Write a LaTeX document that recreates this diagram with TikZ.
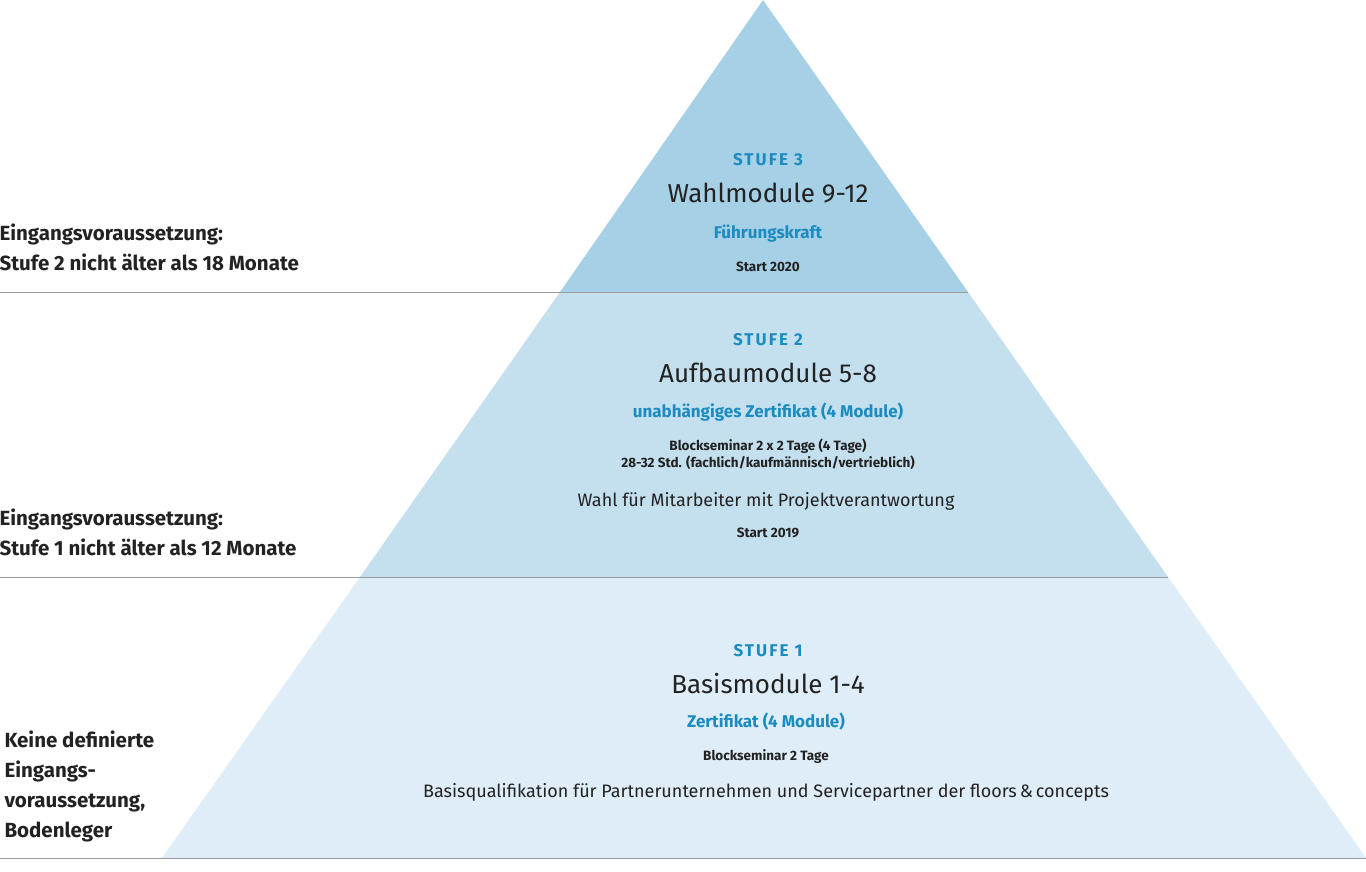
\documentclass[tikz,border=0pt]{standalone}
\usepackage{fontspec}
\setmainfont{Fira Sans}
\definecolor{c3}{HTML}{A6D0E6}
\definecolor{c2}{HTML}{C4E0EF}
\definecolor{c1}{HTML}{DEEDF7}
\definecolor{tb}{HTML}{1B8BC0}
\definecolor{tx}{HTML}{222222}
\begin{document}
\begin{tikzpicture}[x=1pt,y=-1pt,
  st/.style={font=\fontsize{17}{20}\selectfont\bfseries\addfontfeature{LetterSpace=12}, text=tb},
  ti/.style={font=\fontsize{26}{30}\selectfont, text=tx},
  sub/.style={font=\fontsize{17}{20}\selectfont\bfseries, text=tb},
  sm/.style={font=\fontsize{13.5}{17}\selectfont\bfseries, text=tx, align=center},
  nt/.style={font=\fontsize{18}{22}\selectfont, text=tx},
  lt/.style={font=\fontsize{20.5}{30}\selectfont\bfseries, text=tx, align=left, anchor=west},
  sep/.style={draw=gray!80, line width=0.8pt}]
\useasboundingbox (0,0) rectangle (1366,871);
\fill[c1] (360,577) -- (1168,577) -- (1366,858) -- (162,858) -- cycle;
\fill[c2] (560,292) -- (968,292) -- (1168,577) -- (360,577) -- cycle;
\fill[c3] (763,0) -- (968,292) -- (560,292) -- cycle;
\draw[sep] (0,292) -- (968,292);
\draw[sep] (0,577) -- (1168,577);
\draw[sep] (0,858) -- (1366,858);
\node[st] (s3) at (768,160) {STUFE 3};
\node[ti] (t3) at (768,193) {Wahlmodule 9-12};
\node[sub] (u3) at (768,234) {Führungskraft};
\node[sm] (a3) at (768,267) {Start 2020};
\node[st] (s2) at (768,340) {STUFE 2};
\node[ti] (t2) at (768,373) {Aufbaumodule 5-8};
\node[sub] (u2) at (768,412) {unabhängiges Zertifikat (4 Module)};
\node[sm] (a2) at (768,454) {Blockseminar 2 x 2 Tage (4 Tage)\\28-32 Std. (fachlich/kaufmännisch/vertrieblich)};
\node[nt] (n2) at (766,501) {Wahl für Mitarbeiter mit Projektverantwortung};
\node[sm] (b2) at (768,533) {Start 2019};
\node[st] (s1) at (768,651) {STUFE 1};
\node[ti] (t1) at (768,684) {Basismodule 1-4};
\node[sub] (u1) at (766,722) {Zertifikat (4 Module)};
\node[sm] (a1) at (766,757) {Blockseminar 2 Tage};
\node[nt] (n1) at (766,792) {Basisqualifikation für Partnerunternehmen und Servicepartner der floors\,\&\,concepts};
\node[lt] (l3) at (-4,247) {Eingangsvoraussetzung:\\Stufe 2 nicht älter als 18 Monate};
\node[lt] (l2) at (-4,532) {Eingangsvoraussetzung:\\Stufe 1 nicht älter als 12 Monate};
\node[lt] (l1) at (1,786) {Keine definierte\\Eingangs-\\voraussetzung,\\Bodenleger};
\end{tikzpicture}
\end{document}
